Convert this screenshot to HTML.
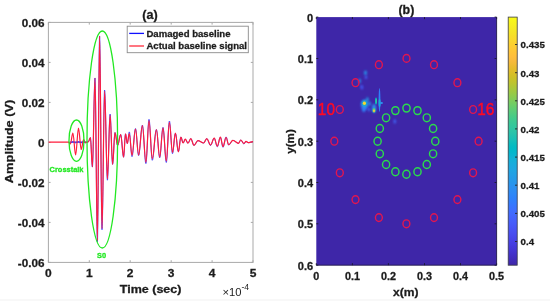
<!DOCTYPE html><html><head><meta charset="utf-8"><title>figure</title><style>html,body{margin:0;padding:0;background:#fff}svg{display:block}text{font-family:"Liberation Sans", Arial, Helvetica, sans-serif}</style></head><body>
<svg width="550" height="301" viewBox="0 0 550 301">
<defs><linearGradient id="cb" x1="0" y1="1" x2="0" y2="0">
<stop offset="0.0000" stop-color="#3e26a8"/>
<stop offset="0.0159" stop-color="#402ab4"/>
<stop offset="0.0317" stop-color="#422ec0"/>
<stop offset="0.0476" stop-color="#4332cb"/>
<stop offset="0.0635" stop-color="#4537d5"/>
<stop offset="0.0794" stop-color="#463cde"/>
<stop offset="0.0952" stop-color="#4741e5"/>
<stop offset="0.1111" stop-color="#4747eb"/>
<stop offset="0.1270" stop-color="#484df0"/>
<stop offset="0.1429" stop-color="#4852f4"/>
<stop offset="0.1587" stop-color="#4758f8"/>
<stop offset="0.1746" stop-color="#465efb"/>
<stop offset="0.1905" stop-color="#4563fd"/>
<stop offset="0.2063" stop-color="#4269fe"/>
<stop offset="0.2222" stop-color="#3e6fff"/>
<stop offset="0.2381" stop-color="#3875fe"/>
<stop offset="0.2540" stop-color="#327cfc"/>
<stop offset="0.2698" stop-color="#2f81fa"/>
<stop offset="0.2857" stop-color="#2e87f7"/>
<stop offset="0.3016" stop-color="#2d8cf3"/>
<stop offset="0.3175" stop-color="#2b91ef"/>
<stop offset="0.3333" stop-color="#2797eb"/>
<stop offset="0.3492" stop-color="#259be8"/>
<stop offset="0.3651" stop-color="#23a0e5"/>
<stop offset="0.3810" stop-color="#20a5e3"/>
<stop offset="0.3968" stop-color="#1ca9df"/>
<stop offset="0.4127" stop-color="#18addb"/>
<stop offset="0.4286" stop-color="#12b1d6"/>
<stop offset="0.4444" stop-color="#08b5d0"/>
<stop offset="0.4603" stop-color="#01b8ca"/>
<stop offset="0.4762" stop-color="#02bac3"/>
<stop offset="0.4921" stop-color="#0bbdbd"/>
<stop offset="0.5079" stop-color="#19bfb6"/>
<stop offset="0.5238" stop-color="#24c1ae"/>
<stop offset="0.5397" stop-color="#2cc4a7"/>
<stop offset="0.5556" stop-color="#31c69f"/>
<stop offset="0.5714" stop-color="#37c897"/>
<stop offset="0.5873" stop-color="#3fca8e"/>
<stop offset="0.6032" stop-color="#4acb84"/>
<stop offset="0.6190" stop-color="#57cc7a"/>
<stop offset="0.6349" stop-color="#64cd6f"/>
<stop offset="0.6508" stop-color="#72cd64"/>
<stop offset="0.6667" stop-color="#81cc59"/>
<stop offset="0.6825" stop-color="#8fcb4e"/>
<stop offset="0.6984" stop-color="#9dc943"/>
<stop offset="0.7143" stop-color="#abc739"/>
<stop offset="0.7302" stop-color="#b9c431"/>
<stop offset="0.7460" stop-color="#c5c22a"/>
<stop offset="0.7619" stop-color="#d1bf27"/>
<stop offset="0.7778" stop-color="#dcbd29"/>
<stop offset="0.7937" stop-color="#e6bb2d"/>
<stop offset="0.8095" stop-color="#f0ba36"/>
<stop offset="0.8254" stop-color="#f8ba3d"/>
<stop offset="0.8413" stop-color="#febe3c"/>
<stop offset="0.8571" stop-color="#fec338"/>
<stop offset="0.8730" stop-color="#fec934"/>
<stop offset="0.8889" stop-color="#fccf30"/>
<stop offset="0.9048" stop-color="#fad62d"/>
<stop offset="0.9206" stop-color="#f7dc2a"/>
<stop offset="0.9365" stop-color="#f5e327"/>
<stop offset="0.9524" stop-color="#f5e924"/>
<stop offset="0.9683" stop-color="#f6ef20"/>
<stop offset="0.9841" stop-color="#f7f51b"/>
<stop offset="1.0000" stop-color="#f9fb15"/>
</linearGradient>
<filter id="b1" x="-100%" y="-100%" width="300%" height="300%"><feGaussianBlur stdDeviation="0.9"/></filter>
<filter id="b2" x="-100%" y="-100%" width="300%" height="300%"><feGaussianBlur stdDeviation="0.6"/></filter>
<clipPath id="axc"><rect x="48.4" y="22.4" width="204.6" height="240.0"/></clipPath>
</defs>
<rect width="550" height="301" fill="#fff"/>
<rect x="0" y="299" width="550" height="2" fill="#f8f8f8"/>
<g fill="none" stroke="#a9a9a9" stroke-width="1">
<rect x="48.4" y="22.4" width="204.6" height="240.0"/>
<path d="M48.4 262.4 v-2.2 M48.4 22.4 v2.2"/>
<path d="M89.3 262.4 v-2.2 M89.3 22.4 v2.2"/>
<path d="M130.2 262.4 v-2.2 M130.2 22.4 v2.2"/>
<path d="M171.2 262.4 v-2.2 M171.2 22.4 v2.2"/>
<path d="M212.1 262.4 v-2.2 M212.1 22.4 v2.2"/>
<path d="M253.0 262.4 v-2.2 M253.0 22.4 v2.2"/>
<path d="M48.4 22.4 h2.2 M253.0 22.4 h-2.2"/>
<path d="M48.4 62.4 h2.2 M253.0 62.4 h-2.2"/>
<path d="M48.4 102.4 h2.2 M253.0 102.4 h-2.2"/>
<path d="M48.4 142.4 h2.2 M253.0 142.4 h-2.2"/>
<path d="M48.4 182.4 h2.2 M253.0 182.4 h-2.2"/>
<path d="M48.4 222.4 h2.2 M253.0 222.4 h-2.2"/>
<path d="M48.4 262.4 h2.2 M253.0 262.4 h-2.2"/>
</g>
<text transform="translate(44.4 26.5) scale(1.080 1)" font-size="10.80" font-weight="bold" fill="#1c1c1c" text-anchor="end" stroke="#1c1c1c" stroke-width="0.28">0.06</text>
<text transform="translate(44.4 66.5) scale(1.080 1)" font-size="10.80" font-weight="bold" fill="#1c1c1c" text-anchor="end" stroke="#1c1c1c" stroke-width="0.28">0.04</text>
<text transform="translate(44.4 106.5) scale(1.080 1)" font-size="10.80" font-weight="bold" fill="#1c1c1c" text-anchor="end" stroke="#1c1c1c" stroke-width="0.28">0.02</text>
<text transform="translate(44.4 146.5) scale(1.080 1)" font-size="10.80" font-weight="bold" fill="#1c1c1c" text-anchor="end" stroke="#1c1c1c" stroke-width="0.28">0</text>
<text transform="translate(44.4 186.5) scale(1.080 1)" font-size="10.80" font-weight="bold" fill="#1c1c1c" text-anchor="end" stroke="#1c1c1c" stroke-width="0.28">-0.02</text>
<text transform="translate(44.4 226.5) scale(1.080 1)" font-size="10.80" font-weight="bold" fill="#1c1c1c" text-anchor="end" stroke="#1c1c1c" stroke-width="0.28">-0.04</text>
<text transform="translate(44.4 266.5) scale(1.080 1)" font-size="10.80" font-weight="bold" fill="#1c1c1c" text-anchor="end" stroke="#1c1c1c" stroke-width="0.28">-0.06</text>
<text transform="translate(48.4 277.0) scale(1.100 1)" font-size="10.90" font-weight="bold" fill="#1c1c1c" text-anchor="middle" stroke="#1c1c1c" stroke-width="0.28">0</text>
<text transform="translate(89.3 277.0) scale(1.100 1)" font-size="10.90" font-weight="bold" fill="#1c1c1c" text-anchor="middle" stroke="#1c1c1c" stroke-width="0.28">1</text>
<text transform="translate(130.2 277.0) scale(1.100 1)" font-size="10.90" font-weight="bold" fill="#1c1c1c" text-anchor="middle" stroke="#1c1c1c" stroke-width="0.28">2</text>
<text transform="translate(171.2 277.0) scale(1.100 1)" font-size="10.90" font-weight="bold" fill="#1c1c1c" text-anchor="middle" stroke="#1c1c1c" stroke-width="0.28">3</text>
<text transform="translate(212.1 277.0) scale(1.100 1)" font-size="10.90" font-weight="bold" fill="#1c1c1c" text-anchor="middle" stroke="#1c1c1c" stroke-width="0.28">4</text>
<text transform="translate(253.0 277.0) scale(1.100 1)" font-size="10.90" font-weight="bold" fill="#1c1c1c" text-anchor="middle" stroke="#1c1c1c" stroke-width="0.28">5</text>
<text transform="translate(150.0 19.0) scale(1.020 1)" font-size="12.40" font-weight="bold" fill="#1c1c1c" text-anchor="middle" stroke="#1c1c1c" stroke-width="0.28">(a)</text>
<text transform="translate(150.6 293.3) scale(1.160 1)" font-size="10.80" font-weight="bold" fill="#1c1c1c" text-anchor="middle" stroke="#1c1c1c" stroke-width="0.28">Time (sec)</text>
<text transform="translate(13.3 141.4) rotate(-90) scale(1.1 1)" font-size="11.7" font-weight="bold" fill="#1c1c1c" stroke="#1c1c1c" stroke-width="0.28" text-anchor="middle">Amplitude (V)</text>
<text transform="translate(222.4 296)" font-size="11.2" fill="#1c1c1c">&#215;10<tspan dy="-5.8" font-size="8.6">-4</tspan></text>
<g clip-path="url(#axc)" fill="none" stroke-linejoin="round">
<path d="M68.0 142.2 L68.5 142.2 C69.17 142.20 69.63 142.90 70.30 142.90 C71.26 142.90 71.94 141.50 72.90 141.50 C73.90 141.50 74.60 142.90 75.60 142.90 C76.67 142.90 77.43 141.50 78.50 141.50 C79.50 141.50 80.20 142.90 81.20 142.90 C82.09 142.90 82.71 141.50 83.60 141.50 C84.34 141.50 84.86 142.90 85.60 142.90 C86.60 142.90 87.30 141.80 88.30 141.80 C89.08 141.80 89.62 137.50 90.40 137.50 C91.14 137.50 91.66 167.00 92.40 167.00 C93.36 167.00 94.04 78.00 95.00 78.00 C95.89 78.00 96.51 241.80 97.40 241.80 C98.21 241.80 98.79 36.00 99.60 36.00 C100.49 36.00 101.11 229.80 102.00 229.80 C102.96 229.80 103.64 90.00 104.60 90.00 C105.64 90.00 106.36 180.20 107.40 180.20 C108.40 180.20 109.10 114.00 110.10 114.00 C111.02 114.00 111.67 164.30 112.60 164.30 C113.49 164.30 114.11 132.50 115.00 132.50 C115.96 132.50 116.64 145.50 117.60 145.50 C118.75 145.50 119.55 134.50 120.70 134.50 C121.77 134.50 122.53 157.20 123.60 157.20 C124.30 157.20 124.80 133.90 125.50 133.90 C126.17 133.90 126.63 143.50 127.30 143.50 C128.04 143.50 128.56 131.90 129.30 131.90 C130.30 131.90 131.00 156.70 132.00 156.70 C133.29 156.70 134.21 128.50 135.50 128.50 C136.65 128.50 137.45 155.60 138.60 155.60 C140.01 155.60 140.99 125.10 142.40 125.10 C143.69 125.10 144.61 163.60 145.90 163.60 C147.05 163.60 147.85 119.30 149.00 119.30 C150.22 119.30 151.08 160.30 152.30 160.30 C153.82 160.30 154.88 129.50 156.40 129.50 C157.62 129.50 158.48 157.80 159.70 157.80 C160.92 157.80 161.78 127.40 163.00 127.40 C164.22 127.40 165.08 162.50 166.30 162.50 C167.45 162.50 168.25 121.00 169.40 121.00 C170.55 121.00 171.35 153.70 172.50 153.70 C173.57 153.70 174.33 133.20 175.40 133.20 C176.51 133.20 177.29 151.80 178.40 151.80 C179.33 151.80 179.97 137.00 180.90 137.00 C181.71 137.00 182.29 143.00 183.10 143.00 C183.91 143.00 184.49 139.20 185.30 139.20 C186.30 139.20 187.00 143.20 188.00 143.20 C189.04 143.20 189.76 138.60 190.80 138.60 C191.98 138.60 192.82 145.40 194.00 145.40 C195.44 145.40 196.46 140.60 197.90 140.60 C200.01 140.60 201.49 143.00 203.60 143.00 C204.78 143.00 205.62 138.60 206.80 138.60 C208.17 138.60 209.13 145.50 210.50 145.50 C211.87 145.50 212.83 138.20 214.20 138.20 C215.35 138.20 216.15 146.80 217.30 146.80 C218.45 146.80 219.25 137.20 220.40 137.20 C221.36 137.20 222.04 147.30 223.00 147.30 C224.15 147.30 224.95 136.90 226.10 136.90 C227.06 136.90 227.74 145.10 228.70 145.10 C230.25 145.10 231.35 140.30 232.90 140.30 C234.94 140.30 236.37 143.30 238.40 143.30 C239.29 143.30 239.91 140.00 240.80 140.00 C241.95 140.00 242.75 144.00 243.90 144.00 C244.68 144.00 245.22 141.40 246.00 141.40 C246.81 141.40 247.39 142.70 248.20 142.70 C249.98 142.70 251.22 141.60 253.00 141.60" stroke="#2020ff" stroke-width="0.75"/>
<path d="M70 142.2 H87.5" stroke="#2020ff" stroke-width="1.2"/>
<path d="M48.4 142.2 L68.5 142.2 C69.17 142.20 69.63 144.00 70.30 144.00 C71.26 144.00 71.94 133.10 72.90 133.10 C73.90 133.10 74.60 155.00 75.60 155.00 C76.67 155.00 77.43 128.20 78.50 128.20 C79.50 128.20 80.20 149.50 81.20 149.50 C82.09 149.50 82.71 139.70 83.60 139.70 C84.34 139.70 84.86 142.60 85.60 142.60 C86.60 142.60 87.30 141.80 88.30 141.80 C89.08 141.80 89.62 137.50 90.40 137.50 C91.14 137.50 91.66 167.00 92.40 167.00 C93.36 167.00 94.04 78.00 95.00 78.00 C95.89 78.00 96.51 240.60 97.40 240.60 C98.21 240.60 98.79 36.00 99.60 36.00 C100.49 36.00 101.11 228.60 102.00 228.60 C102.96 228.60 103.64 91.00 104.60 91.00 C105.64 91.00 106.36 179.00 107.40 179.00 C108.40 179.00 109.10 115.00 110.10 115.00 C111.02 115.00 111.67 164.30 112.60 164.30 C113.49 164.30 114.11 132.50 115.00 132.50 C115.96 132.50 116.64 145.50 117.60 145.50 C118.75 145.50 119.55 134.50 120.70 134.50 C121.77 134.50 122.53 157.20 123.60 157.20 C124.30 157.20 124.80 133.90 125.50 133.90 C126.17 133.90 126.63 143.50 127.30 143.50 C128.04 143.50 128.56 133.50 129.30 133.50 C130.30 133.50 131.00 155.50 132.00 155.50 C133.29 155.50 134.21 129.00 135.50 129.00 C136.65 129.00 137.45 155.00 138.60 155.00 C140.01 155.00 140.99 125.70 142.40 125.70 C143.69 125.70 144.61 162.10 145.90 162.10 C147.05 162.10 147.85 120.80 149.00 120.80 C150.22 120.80 151.08 158.80 152.30 158.80 C153.82 158.80 154.88 129.50 156.40 129.50 C157.62 129.50 158.48 157.20 159.70 157.20 C160.92 157.20 161.78 127.90 163.00 127.90 C164.22 127.90 165.08 161.00 166.30 161.00 C167.45 161.00 168.25 122.30 169.40 122.30 C170.55 122.30 171.35 152.50 172.50 152.50 C173.57 152.50 174.33 133.20 175.40 133.20 C176.51 133.20 177.29 151.80 178.40 151.80 C179.33 151.80 179.97 137.00 180.90 137.00 C181.71 137.00 182.29 143.00 183.10 143.00 C183.91 143.00 184.49 139.20 185.30 139.20 C186.30 139.20 187.00 143.20 188.00 143.20 C189.04 143.20 189.76 138.60 190.80 138.60 C191.98 138.60 192.82 145.40 194.00 145.40 C195.44 145.40 196.46 140.60 197.90 140.60 C200.01 140.60 201.49 143.00 203.60 143.00 C204.78 143.00 205.62 138.60 206.80 138.60 C208.17 138.60 209.13 145.00 210.50 145.00 C211.87 145.00 212.83 138.20 214.20 138.20 C215.35 138.20 216.15 146.20 217.30 146.20 C218.45 146.20 219.25 137.20 220.40 137.20 C221.36 137.20 222.04 146.50 223.00 146.50 C224.15 146.50 224.95 137.50 226.10 137.50 C227.06 137.50 227.74 144.60 228.70 144.60 C230.25 144.60 231.35 140.30 232.90 140.30 C234.94 140.30 236.37 143.30 238.40 143.30 C239.29 143.30 239.91 140.00 240.80 140.00 C241.95 140.00 242.75 143.50 243.90 143.50 C244.68 143.50 245.22 141.40 246.00 141.40 C246.81 141.40 247.39 142.70 248.20 142.70 C249.98 142.70 251.22 141.60 253.00 141.60" stroke="#ff1c3c" stroke-width="1.2"/>
</g>
<ellipse cx="102.3" cy="139.5" rx="15.3" ry="108.5" fill="none" stroke="#22e822" stroke-width="1.3"/>
<ellipse cx="76.5" cy="140.7" rx="7.5" ry="20.7" fill="none" stroke="#22e822" stroke-width="1.3"/>
<text transform="translate(49.6 171.7) scale(0.980 1)" font-size="7.60" font-weight="bold" fill="#22e822" text-anchor="start" stroke="#22e822" stroke-width="0.28">Crosstalk</text>
<text transform="translate(101.6 258.2) scale(1.000 1)" font-size="7.40" font-weight="bold" fill="#22e822" text-anchor="middle" stroke="#22e822" stroke-width="0.28">S0</text>
<rect x="127.2" y="26.2" width="121.1" height="26.5" fill="#fff" stroke="#8a8a8a" stroke-width="0.9"/>
<path d="M129.2 33.4 H144" stroke="#1010ff" stroke-width="1.3"/>
<path d="M129.2 46 H144" stroke="#ff2a3c" stroke-width="1.3"/>
<text transform="translate(146.4 36.8) scale(1.010 1)" font-size="9.50" font-weight="bold" fill="#1c1c1c" text-anchor="start" stroke="#1c1c1c" stroke-width="0.28">Damaged baseline</text>
<text transform="translate(146.4 49.4) scale(1.010 1)" font-size="9.50" font-weight="bold" fill="#1c1c1c" text-anchor="start" stroke="#1c1c1c" stroke-width="0.28">Actual baseline signal</text>
<rect x="316.3" y="17.1" width="180.3" height="248.1" fill="#3e26a8"/>
<ellipse cx="365.5" cy="72.9" rx="1.4" ry="2.3" fill="#2895ec" filter="url(#b1)"/>
<ellipse cx="366.0" cy="77.2" rx="1.1" ry="1.8" fill="#4367fd" filter="url(#b1)"/>
<ellipse cx="359.7" cy="81.0" rx="1.1" ry="2.4" fill="#2895ec" filter="url(#b1)"/>
<ellipse cx="361.6" cy="86.6" rx="1.0" ry="1.8" fill="#465ffb" filter="url(#b1)"/>
<ellipse cx="364.5" cy="104.8" rx="3.6" ry="5.4" fill="#317efb" filter="url(#b1)"/>
<ellipse cx="364.5" cy="103.4" rx="2.6" ry="3.0" fill="#12beb9" filter="url(#b1)"/>
<ellipse cx="364.4" cy="103.3" rx="1.6" ry="1.7" fill="#fad42e" filter="url(#b2)"/>
<ellipse cx="363.8" cy="109.8" rx="1.5" ry="2.4" fill="#2e85f8" filter="url(#b1)"/>
<ellipse cx="367.4" cy="99.6" rx="1.2" ry="2.6" fill="#249fe6" filter="url(#b1)"/>
<ellipse cx="369.5" cy="103.8" rx="1.3" ry="2.2" fill="#2699ea" filter="url(#b1)"/>
<ellipse cx="369.0" cy="109.6" rx="1.1" ry="1.8" fill="#3876fe" filter="url(#b1)"/>
<ellipse cx="374.0" cy="108.4" rx="2.0" ry="4.4" fill="#2a92ee" filter="url(#b1)"/>
<ellipse cx="374.0" cy="110.4" rx="1.6" ry="2.3" fill="#48cb86" filter="url(#b2)"/>
<ellipse cx="374.0" cy="110.8" rx="1.0" ry="1.3" fill="#fec437" filter="url(#b2)"/>
<ellipse cx="376.0" cy="101.0" rx="1.0" ry="3.6" fill="#04bbc2" filter="url(#b2)"/>
<ellipse cx="376.2" cy="101.0" rx="0.5" ry="2.2" fill="#48cb86" filter="url(#b2)"/>
<ellipse cx="379.5" cy="100.0" rx="0.9" ry="12.0" fill="#2f81fa" filter="url(#b2)"/>
<ellipse cx="379.6" cy="103.0" rx="1.1" ry="4.0" fill="#1caadf" filter="url(#b2)"/>
<ellipse cx="381.4" cy="103.0" rx="1.6" ry="0.9" fill="#2a92ee" filter="url(#b2)"/>
<ellipse cx="394.8" cy="121.4" rx="1.1" ry="2.2" fill="#3f6eff" filter="url(#b1)"/>
<ellipse cx="362.0" cy="88.0" rx="1.0" ry="1.4" fill="#4758f8" filter="url(#b1)"/>
<g stroke="#1a1a2a" stroke-width="0.9">
<path d="M316.3 265.2 v-2 M316.3 17.1 v2"/>
<path d="M352.4 265.2 v-2 M352.4 17.1 v2"/>
<path d="M388.4 265.2 v-2 M388.4 17.1 v2"/>
<path d="M424.5 265.2 v-2 M424.5 17.1 v2"/>
<path d="M460.5 265.2 v-2 M460.5 17.1 v2"/>
<path d="M496.6 265.2 v-2 M496.6 17.1 v2"/>
<path d="M316.3 17.1 h2 M496.6 17.1 h-2"/>
<path d="M316.3 58.5 h2 M496.6 58.5 h-2"/>
<path d="M316.3 99.8 h2 M496.6 99.8 h-2"/>
<path d="M316.3 141.2 h2 M496.6 141.2 h-2"/>
<path d="M316.3 182.5 h2 M496.6 182.5 h-2"/>
<path d="M316.3 223.8 h2 M496.6 223.8 h-2"/>
<path d="M316.3 265.2 h2 M496.6 265.2 h-2"/>
</g>
<path d="M496.6 17.1 V265.2 H316.3" fill="none" stroke="#20184a" stroke-width="0.9"/>
<ellipse cx="478.6" cy="141.2" rx="3.45" ry="3.9" fill="none" stroke="#e2164f" stroke-width="1.4"/>
<ellipse cx="473.1" cy="109.5" rx="3.45" ry="3.9" fill="none" stroke="#e2164f" stroke-width="1.4"/>
<ellipse cx="457.4" cy="82.7" rx="3.45" ry="3.9" fill="none" stroke="#e2164f" stroke-width="1.4"/>
<ellipse cx="434.0" cy="64.7" rx="3.45" ry="3.9" fill="none" stroke="#e2164f" stroke-width="1.4"/>
<ellipse cx="406.5" cy="58.4" rx="3.45" ry="3.9" fill="none" stroke="#e2164f" stroke-width="1.4"/>
<ellipse cx="378.9" cy="64.7" rx="3.45" ry="3.9" fill="none" stroke="#e2164f" stroke-width="1.4"/>
<ellipse cx="355.5" cy="82.7" rx="3.45" ry="3.9" fill="none" stroke="#e2164f" stroke-width="1.4"/>
<ellipse cx="339.8" cy="109.5" rx="3.45" ry="3.9" fill="none" stroke="#e2164f" stroke-width="1.4"/>
<ellipse cx="334.3" cy="141.2" rx="3.45" ry="3.9" fill="none" stroke="#e2164f" stroke-width="1.4"/>
<ellipse cx="339.8" cy="172.8" rx="3.45" ry="3.9" fill="none" stroke="#e2164f" stroke-width="1.4"/>
<ellipse cx="355.5" cy="199.6" rx="3.45" ry="3.9" fill="none" stroke="#e2164f" stroke-width="1.4"/>
<ellipse cx="378.9" cy="217.6" rx="3.45" ry="3.9" fill="none" stroke="#e2164f" stroke-width="1.4"/>
<ellipse cx="406.4" cy="223.8" rx="3.45" ry="3.9" fill="none" stroke="#e2164f" stroke-width="1.4"/>
<ellipse cx="434.0" cy="217.6" rx="3.45" ry="3.9" fill="none" stroke="#e2164f" stroke-width="1.4"/>
<ellipse cx="457.4" cy="199.6" rx="3.45" ry="3.9" fill="none" stroke="#e2164f" stroke-width="1.4"/>
<ellipse cx="473.1" cy="172.8" rx="3.45" ry="3.9" fill="none" stroke="#e2164f" stroke-width="1.4"/>
<ellipse cx="435.3" cy="141.2" rx="3.6" ry="3.95" fill="none" stroke="#2bdc4c" stroke-width="1.45"/>
<ellipse cx="433.1" cy="128.5" rx="3.6" ry="3.95" fill="none" stroke="#2bdc4c" stroke-width="1.45"/>
<ellipse cx="426.8" cy="117.8" rx="3.6" ry="3.95" fill="none" stroke="#2bdc4c" stroke-width="1.45"/>
<ellipse cx="417.5" cy="110.6" rx="3.6" ry="3.95" fill="none" stroke="#2bdc4c" stroke-width="1.45"/>
<ellipse cx="406.5" cy="108.1" rx="3.6" ry="3.95" fill="none" stroke="#2bdc4c" stroke-width="1.45"/>
<ellipse cx="395.4" cy="110.6" rx="3.6" ry="3.95" fill="none" stroke="#2bdc4c" stroke-width="1.45"/>
<ellipse cx="386.1" cy="117.8" rx="3.6" ry="3.95" fill="none" stroke="#2bdc4c" stroke-width="1.45"/>
<ellipse cx="379.8" cy="128.5" rx="3.6" ry="3.95" fill="none" stroke="#2bdc4c" stroke-width="1.45"/>
<ellipse cx="377.6" cy="141.2" rx="3.6" ry="3.95" fill="none" stroke="#2bdc4c" stroke-width="1.45"/>
<ellipse cx="379.8" cy="153.8" rx="3.6" ry="3.95" fill="none" stroke="#2bdc4c" stroke-width="1.45"/>
<ellipse cx="386.1" cy="164.5" rx="3.6" ry="3.95" fill="none" stroke="#2bdc4c" stroke-width="1.45"/>
<ellipse cx="395.4" cy="171.7" rx="3.6" ry="3.95" fill="none" stroke="#2bdc4c" stroke-width="1.45"/>
<ellipse cx="406.4" cy="174.2" rx="3.6" ry="3.95" fill="none" stroke="#2bdc4c" stroke-width="1.45"/>
<ellipse cx="417.5" cy="171.7" rx="3.6" ry="3.95" fill="none" stroke="#2bdc4c" stroke-width="1.45"/>
<ellipse cx="426.8" cy="164.5" rx="3.6" ry="3.95" fill="none" stroke="#2bdc4c" stroke-width="1.45"/>
<ellipse cx="433.1" cy="153.8" rx="3.6" ry="3.95" fill="none" stroke="#2bdc4c" stroke-width="1.45"/>
<text transform="translate(317.8 115.0) scale(0.930 1)" font-size="16.60" font-weight="normal" fill="#ff0a24" text-anchor="start" stroke="#ff0a24" stroke-width="0.45">10</text>
<text transform="translate(477.2 114.7) scale(0.930 1)" font-size="16.60" font-weight="normal" fill="#ff0a24" text-anchor="start" stroke="#ff0a24" stroke-width="0.45">16</text>
<text transform="translate(313.1 21.7) scale(1.060 1)" font-size="10.40" font-weight="bold" fill="#1c1c1c" text-anchor="end" stroke="#1c1c1c" stroke-width="0.28">0</text>
<text transform="translate(313.1 63.1) scale(1.060 1)" font-size="10.40" font-weight="bold" fill="#1c1c1c" text-anchor="end" stroke="#1c1c1c" stroke-width="0.28">0.1</text>
<text transform="translate(313.1 104.4) scale(1.060 1)" font-size="10.40" font-weight="bold" fill="#1c1c1c" text-anchor="end" stroke="#1c1c1c" stroke-width="0.28">0.2</text>
<text transform="translate(313.1 145.8) scale(1.060 1)" font-size="10.40" font-weight="bold" fill="#1c1c1c" text-anchor="end" stroke="#1c1c1c" stroke-width="0.28">0.3</text>
<text transform="translate(313.1 187.1) scale(1.060 1)" font-size="10.40" font-weight="bold" fill="#1c1c1c" text-anchor="end" stroke="#1c1c1c" stroke-width="0.28">0.4</text>
<text transform="translate(313.1 228.4) scale(1.060 1)" font-size="10.40" font-weight="bold" fill="#1c1c1c" text-anchor="end" stroke="#1c1c1c" stroke-width="0.28">0.5</text>
<text transform="translate(313.1 269.8) scale(1.060 1)" font-size="10.40" font-weight="bold" fill="#1c1c1c" text-anchor="end" stroke="#1c1c1c" stroke-width="0.28">0.6</text>
<text transform="translate(316.3 279.7) scale(1.040 1)" font-size="10.40" font-weight="bold" fill="#1c1c1c" text-anchor="middle" stroke="#1c1c1c" stroke-width="0.28">0</text>
<text transform="translate(352.4 279.7) scale(1.040 1)" font-size="10.40" font-weight="bold" fill="#1c1c1c" text-anchor="middle" stroke="#1c1c1c" stroke-width="0.28">0.1</text>
<text transform="translate(388.4 279.7) scale(1.040 1)" font-size="10.40" font-weight="bold" fill="#1c1c1c" text-anchor="middle" stroke="#1c1c1c" stroke-width="0.28">0.2</text>
<text transform="translate(424.5 279.7) scale(1.040 1)" font-size="10.40" font-weight="bold" fill="#1c1c1c" text-anchor="middle" stroke="#1c1c1c" stroke-width="0.28">0.3</text>
<text transform="translate(460.5 279.7) scale(1.040 1)" font-size="10.40" font-weight="bold" fill="#1c1c1c" text-anchor="middle" stroke="#1c1c1c" stroke-width="0.28">0.4</text>
<text transform="translate(496.6 279.7) scale(1.040 1)" font-size="10.40" font-weight="bold" fill="#1c1c1c" text-anchor="middle" stroke="#1c1c1c" stroke-width="0.28">0.5</text>
<text transform="translate(406.4 13.8) scale(1.020 1)" font-size="12.20" font-weight="bold" fill="#1c1c1c" text-anchor="middle" stroke="#1c1c1c" stroke-width="0.28">(b)</text>
<text transform="translate(405.8 296.2) scale(1.040 1)" font-size="11.60" font-weight="bold" fill="#1c1c1c" text-anchor="middle" stroke="#1c1c1c" stroke-width="0.28">x(m)</text>
<text transform="translate(293.6 141.5) rotate(-90)" font-size="11.6" font-weight="bold" fill="#1c1c1c" stroke="#1c1c1c" stroke-width="0.28" text-anchor="middle">y(m)</text>
<rect x="508.2" y="17.1" width="9.0" height="248.1" fill="url(#cb)" stroke="#3a3a44" stroke-width="0.8"/>
<path d="M517.2 241.5 h-2.2" stroke="#222" stroke-width="0.9"/>
<text transform="translate(520.6 245.3) scale(1.030 1)" font-size="9.40" font-weight="bold" fill="#1c1c1c" text-anchor="start" stroke="#1c1c1c" stroke-width="0.28">0.4</text>
<path d="M517.2 213.4 h-2.2" stroke="#222" stroke-width="0.9"/>
<text transform="translate(520.6 217.2) scale(1.030 1)" font-size="9.40" font-weight="bold" fill="#1c1c1c" text-anchor="start" stroke="#1c1c1c" stroke-width="0.28">0.405</text>
<path d="M517.2 185.2 h-2.2" stroke="#222" stroke-width="0.9"/>
<text transform="translate(520.6 189.0) scale(1.030 1)" font-size="9.40" font-weight="bold" fill="#1c1c1c" text-anchor="start" stroke="#1c1c1c" stroke-width="0.28">0.41</text>
<path d="M517.2 157.1 h-2.2" stroke="#222" stroke-width="0.9"/>
<text transform="translate(520.6 160.9) scale(1.030 1)" font-size="9.40" font-weight="bold" fill="#1c1c1c" text-anchor="start" stroke="#1c1c1c" stroke-width="0.28">0.415</text>
<path d="M517.2 128.9 h-2.2" stroke="#222" stroke-width="0.9"/>
<text transform="translate(520.6 132.7) scale(1.030 1)" font-size="9.40" font-weight="bold" fill="#1c1c1c" text-anchor="start" stroke="#1c1c1c" stroke-width="0.28">0.42</text>
<path d="M517.2 100.8 h-2.2" stroke="#222" stroke-width="0.9"/>
<text transform="translate(520.6 104.6) scale(1.030 1)" font-size="9.40" font-weight="bold" fill="#1c1c1c" text-anchor="start" stroke="#1c1c1c" stroke-width="0.28">0.425</text>
<path d="M517.2 72.7 h-2.2" stroke="#222" stroke-width="0.9"/>
<text transform="translate(520.6 76.5) scale(1.030 1)" font-size="9.40" font-weight="bold" fill="#1c1c1c" text-anchor="start" stroke="#1c1c1c" stroke-width="0.28">0.43</text>
<path d="M517.2 44.5 h-2.2" stroke="#222" stroke-width="0.9"/>
<text transform="translate(520.6 48.3) scale(1.030 1)" font-size="9.40" font-weight="bold" fill="#1c1c1c" text-anchor="start" stroke="#1c1c1c" stroke-width="0.28">0.435</text>
</svg></body></html>
